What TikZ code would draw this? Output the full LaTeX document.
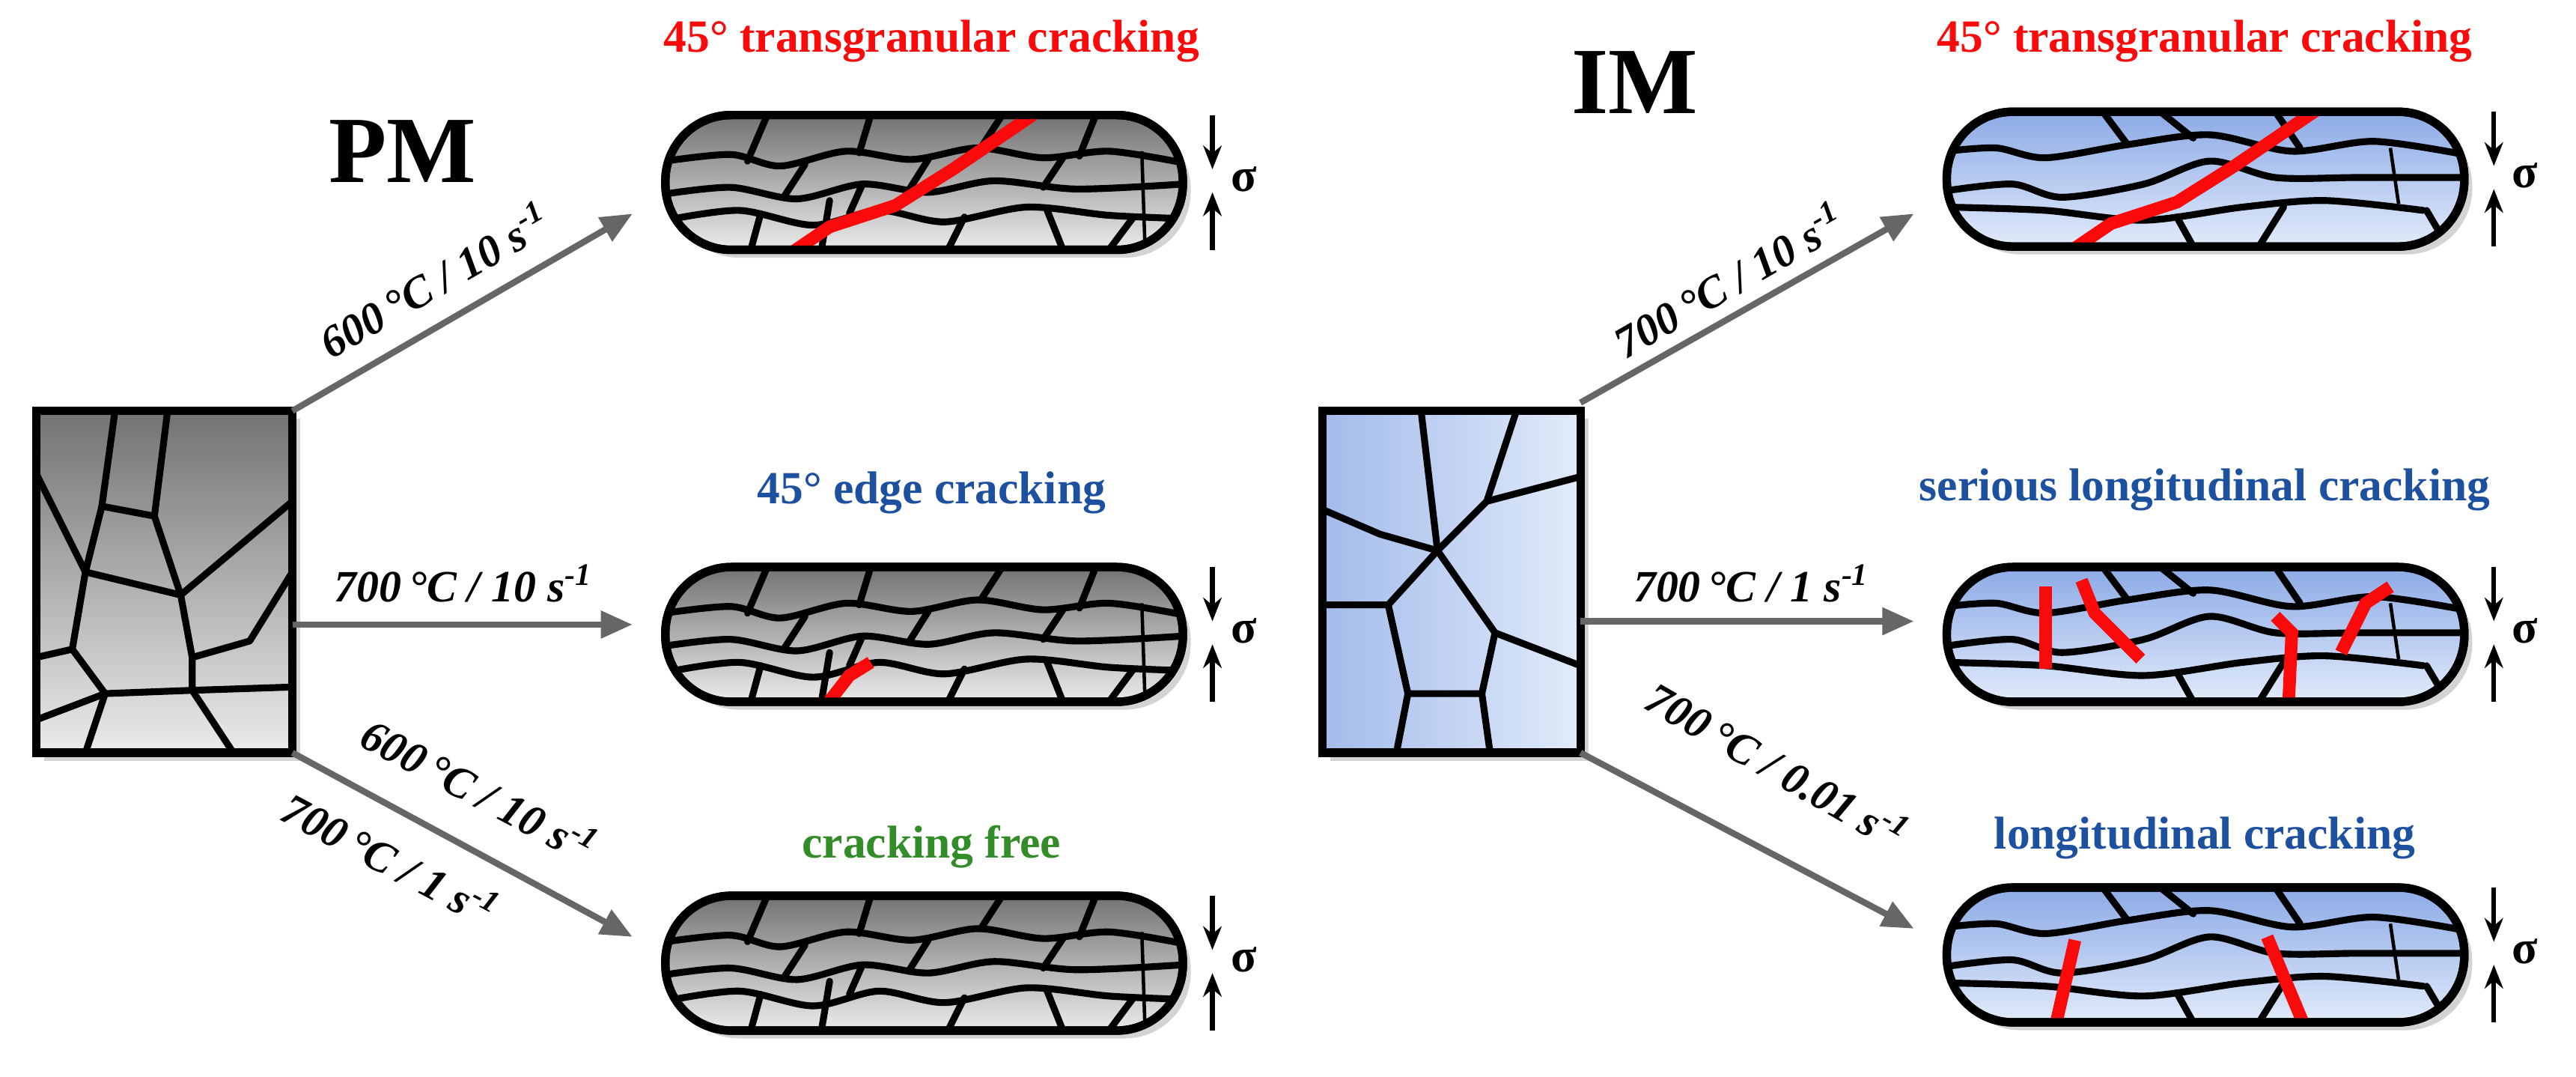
\documentclass[tikz,border=0pt]{standalone}
\usepackage{fontspec}
\setmainfont{Liberation Serif}
\usetikzlibrary{shadows,arrows.meta}
\definecolor{crk}{RGB}{250,10,10}
\definecolor{tblue}{RGB}{30,80,160}
\definecolor{tgreen}{RGB}{50,140,40}
\definecolor{ib1}{RGB}{140,170,230}
\definecolor{ib2}{RGB}{225,235,250}
\newcommand{\mi}{\textsuperscript{-1}}
\tikzset{
  capsty/.style={draw=black,line width=3.2pt,rounded corners=0.88cm,drop shadow={opacity=0.35,shadow xshift=3pt,shadow yshift=-3pt}},
  boxsty/.style={draw=black,line width=3.2pt,drop shadow={opacity=0.35,shadow xshift=3pt,shadow yshift=-3pt}},
  gb/.style={line width=2.6pt,line join=round,line cap=round},
  gt/.style={line width=1.3pt},
  crack/.style={draw=crk,line width=4.8pt,line cap=butt},
  flow/.style={draw=black!60,line width=2.4pt,-{Triangle[length=12pt,width=10pt]}},
  lab/.style={font=\bfseries\itshape\fontsize{17}{19}\selectfont},
  ttl/.style={font=\bfseries\fontsize{17.5}{19}\selectfont},
  big/.style={font=\bfseries\fontsize{36}{38}\selectfont},
  sig/.style={line width=1.8pt,-{Stealth[length=9pt,width=7pt]}},
}
\newcommand{\pmgrains}{%
  \draw[gb] plot[smooth] coordinates {(0,28) (40,24) (70,31) (110,22) (150,27) (190,20) (230,26) (270,22) (315,29)};
  \draw[gb] plot[smooth] coordinates {(0,48) (40,44) (80,51) (120,42) (160,47) (200,40) (250,45) (315,42)};
  \draw[gb] plot[smooth] coordinates {(0,64) (45,58) (90,67) (130,58) (170,65) (220,56) (270,61) (315,63)};
  \draw[gb] (62,0)--(50,28); \draw[gb] (125,0)--(118,23); \draw[gb] (205,0)--(192,20); \draw[gb] (262,0)--(252,25);
  \draw[gb] (85,30)--(72,50); \draw[gb] (160,27)--(148,46); \draw[gb] (242,26)--(230,44); \draw[gb] (120,42)--(112,60);
  \draw[gt] (290,22)--(292,82);
  \draw[gb] (100,52)--(95,82); \draw[gb] (182,62)--(172,82); \draw[gb] (232,57)--(242,82); \draw[gb] (58,60)--(52,82); \draw[gb] (285,62)--(270,82);}
\newcommand{\imgrains}{%
  \draw[gb] plot[smooth] coordinates {(0,24) (30,22) (60,28) (110,20) (160,14) (210,24) (260,18) (315,26)};
  \draw[gb] plot[smooth] coordinates {(0,48) (40,44) (70,52) (120,44) (160,30) (200,40) (250,40) (315,40)};
  \draw[gb] plot[smooth] coordinates {(0,58) (60,60) (120,66) (180,58) (230,54) (290,60)};
  \draw[gb] (130,0)--(150,16); \draw[gb] (200,0)--(215,22); \draw[gb] (95,0)--(110,20);
  \draw[gt] (270,22)--(275,56);
  \draw[gb] (140,64)--(150,82); \draw[gb] (190,82)--(205,58); \draw[gb] (292,60)--(305,82);}
\newcommand{\capsule}[7]{%
  \begin{scope}[shift={(#1,#2)}]
    \path[capsty,top color=#3,bottom color=#4] (0,0) rectangle (315,82);
    \begin{scope}
      \clip[rounded corners=0.88cm] (0,0) rectangle (315,82);
      #5
      #6
    \end{scope}
    \draw[line width=3.2pt,rounded corners=0.88cm] (0,0) rectangle (315,82);
    \coordinate (#7) at (0,41);
    \coordinate (#7a) at (333,0); \coordinate (#7b) at (333,33);
    \coordinate (#7c) at (333,82); \coordinate (#7d) at (333,47);
    \draw[sig] (#7a)--(#7b); \draw[sig] (#7c)--(#7d);
    \node[font=\bfseries\fontsize{18}{20}\selectfont] (#7s) at (352,39) {σ};
  \end{scope}}
\begin{document}
\begin{tikzpicture}[x=0.021945cm,y=-0.021945cm]
\useasboundingbox (0,0) rectangle (1568,655);
% ---------- PM ----------
\node[big] (pm) at (245,92) {PM};
\path[boxsty,top color=black!55,bottom color=black!8] (22,250) rectangle (178,458);
\begin{scope}[shift={(22,250)}]
  \clip (0,0) rectangle (156,208);
  \draw[gb] (48,0)--(40,58)--(72,64)--(80,0);
  \draw[gb] (0,38)--(30,98)--(40,58);
  \draw[gb] (72,64)--(88,112)--(156,55);
  \draw[gb] (30,98)--(88,112);
  \draw[gb] (30,98)--(22,145)--(0,150);
  \draw[gb] (88,112)--(95,150)--(130,140)--(156,98);
  \draw[gb] (22,145)--(42,172)--(95,170)--(95,150);
  \draw[gb] (0,188)--(42,172);
  \draw[gb] (95,170)--(120,208); \draw[gb] (95,170)--(156,168);
  \draw[gb] (42,172)--(30,208);
\end{scope}
\draw[line width=3.2pt] (22,250) rectangle (178,458);
\coordinate (pmA) at (178,250); \coordinate (pmB) at (178,380); \coordinate (pmC) at (178,458);

\node[ttl,text=crk] (t1) at (567,25) {45° transgranular cracking};
\capsule{405}{70}{black!55}{black!8}{\pmgrains}{\draw[crack] (75,85)--(100,68)--(140,55)--(175,33)--(228,-3);}{c1}
\node[ttl,text=tblue] (t2) at (567,300) {45° edge cracking};
\capsule{405}{345}{black!55}{black!8}{\pmgrains}{\draw[crack] (98,84)--(112,66)--(125,58);}{c2}
\node[ttl,text=tgreen] (t3) at (567,515) {cracking free};
\capsule{405}{545}{black!55}{black!8}{\pmgrains}{}{c3}

\coordinate (e1) at (385,130); \coordinate (e2) at (385,380); \coordinate (e3) at (385,570);
\draw[flow] (pmA) -- (e1);
\draw[flow] (pmB) -- (e2);
\draw[flow] (pmC) -- (e3);
\node[lab,rotate=30] (l1) at (264,170) {600\,°C / 10 s\mi};
\node[lab] (l2) at (282,355) {700\,°C / 10 s\mi};
\node[lab,rotate=-28] (l3) at (292,480) {600\,°C / 10 s\mi};
\node[lab,rotate=-28] (l4) at (238,522) {700\,°C / 1 s\mi};

% ---------- IM ----------
\node[big] (im) at (995,50) {IM};
\path[boxsty,left color=ib1!80,right color=ib2] (805,250) rectangle (962,458);
\begin{scope}[shift={(805,250)}]
  \clip (0,0) rectangle (157,208);
  \draw[gb] (60,0)--(70,85);
  \draw[gb] (0,60)--(35,75)--(70,85)--(100,55)--(118,0);
  \draw[gb] (100,55)--(157,40);
  \draw[gb] (70,85)--(40,118)--(0,118);
  \draw[gb] (70,85)--(105,135)--(157,155);
  \draw[gb] (40,118)--(52,172)--(97,172)--(105,135);
  \draw[gb] (52,172)--(45,208); \draw[gb] (97,172)--(102,208);
\end{scope}
\draw[line width=3.2pt] (805,250) rectangle (962,458);
\coordinate (imA) at (962,245); \coordinate (imB) at (962,378); \coordinate (imC) at (962,458);

\node[ttl,text=crk] (t4) at (1342,25) {45° transgranular cracking};
\capsule{1185}{68}{ib1}{ib2}{\imgrains}{\draw[crack] (75,85)--(100,68)--(140,55)--(175,33)--(228,-3);}{c4}
\node[ttl,text=tblue] (t5) at (1342,298) {serious longitudinal cracking};
\capsule{1185}{345}{ib1}{ib2}{\imgrains}{\draw[crack] (60,12)--(60,62); \draw[crack] (82,8)--(90,28)--(118,56); \draw[crack] (200,30)--(210,40)--(208,84); \draw[crack] (240,52)--(255,22)--(270,12);}{c5}
\node[ttl,text=tblue] (t6) at (1342,510) {longitudinal cracking};
\capsule{1185}{540}{ib1}{ib2}{\imgrains}{\draw[crack] (78,32)--(66,85); \draw[crack] (195,30)--(218,85);}{c6}

\coordinate (f1) at (1165,130); \coordinate (f2) at (1165,378); \coordinate (f3) at (1165,565);
\draw[flow] (imA) -- (f1);
\draw[flow] (imB) -- (f2);
\draw[flow] (imC) -- (f3);
\node[lab,rotate=30] (l5) at (1052,170) {700\,°C / 10 s\mi};
\node[lab] (l6) at (1066,355) {700\,°C / 1 s\mi};
\node[lab,rotate=-30] (l7) at (1082,465) {700\,°C / 0.01 s\mi};
\end{tikzpicture}
\end{document}
